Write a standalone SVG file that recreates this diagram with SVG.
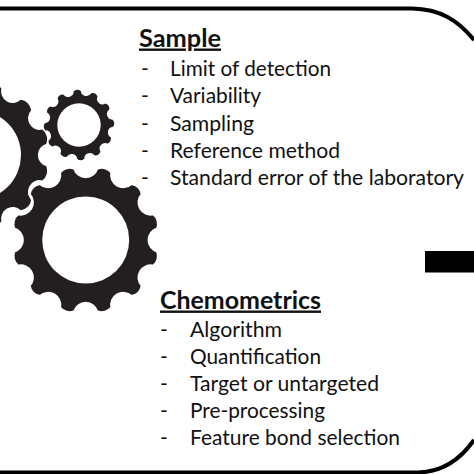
<svg xmlns="http://www.w3.org/2000/svg" width="474" height="474" viewBox="0 0 474 474">
<style>
text{font-family:Lato,Carlito,"Open Sans",sans-serif;fill:#111}
.h{font-size:24px;font-weight:700;text-decoration:underline}
.i{font-size:21px}
.g{fill:#231f20}
.o{fill:none;stroke:#000;stroke-width:4}
</style>
<defs>
<path id="gear" d="M70.13 11.11A12 12 0 0 1 66.28 25.44A11.6 11.6 0 0 0 55.18 44.68A12 12 0 0 1 44.68 55.18A11.6 11.6 0 0 0 25.44 66.28A12 12 0 0 1 11.11 70.13A11.6 11.6 0 0 0 -11.11 70.13A12 12 0 0 1 -25.44 66.28A11.6 11.6 0 0 0 -44.68 55.18A12 12 0 0 1 -55.18 44.68A11.6 11.6 0 0 0 -66.28 25.44A12 12 0 0 1 -70.13 11.11A11.6 11.6 0 0 0 -70.13 -11.11A12 12 0 0 1 -66.28 -25.44A11.6 11.6 0 0 0 -55.18 -44.68A12 12 0 0 1 -44.68 -55.18A11.6 11.6 0 0 0 -25.44 -66.28A12 12 0 0 1 -11.11 -70.13A11.6 11.6 0 0 0 11.11 -70.13A12 12 0 0 1 25.44 -66.28A11.6 11.6 0 0 0 44.68 -55.18A12 12 0 0 1 55.18 -44.68A11.6 11.6 0 0 0 66.28 -25.44A12 12 0 0 1 70.13 -11.11A11.6 11.6 0 0 0 70.13 11.11Z"/>
</defs>
<rect width="474" height="474" fill="#fff"/>
<g id="frame">
<path class="o" d="M0 8.5H412C440 9 458 20 474 40"/>
<path class="o" d="M0 472.5H418C442 472 460 460 474 440"/>
<rect x="425" y="251" width="49" height="21.5" fill="#000"/>
</g>
<g id="gear-left">
<use href="#gear" class="g" transform="translate(-24 155)"/>
<circle cx="-24" cy="155" r="45" fill="#fff"/>
</g>
<g id="gear-small">
<use href="#gear" class="g" transform="translate(79 125) rotate(-18) scale(.48)"/>
<circle cx="79" cy="125" r="21.7" fill="#fff"/>
</g>
<g id="gear-big">
<use href="#gear" class="g" stroke="#fff" stroke-width="2.5" transform="translate(85.7 240) scale(1.02)"/>
<circle cx="85.7" cy="240" r="43.5" fill="#fff"/>
</g>
<g id="sample">
<text class="h" x="139" y="46.5" textLength="82" lengthAdjust="spacingAndGlyphs">Sample</text>
<g class="i">
<text x="141" y="75.5">-</text><text x="170" y="75.5" textLength="161" lengthAdjust="spacingAndGlyphs">Limit of detection</text>
<text x="141" y="102.5">-</text><text x="170" y="102.5" textLength="91" lengthAdjust="spacingAndGlyphs">Variability</text>
<text x="141" y="130.5">-</text><text x="170" y="130.5" textLength="84" lengthAdjust="spacingAndGlyphs">Sampling</text>
<text x="141" y="157.5">-</text><text x="170" y="157.5" textLength="170" lengthAdjust="spacingAndGlyphs">Reference method</text>
<text x="141" y="184.5">-</text><text x="170" y="184.5" textLength="294" lengthAdjust="spacingAndGlyphs">Standard error of the laboratory</text>
</g>
</g>
<g id="chemometrics">
<text class="h" x="160" y="308.5" textLength="161" lengthAdjust="spacingAndGlyphs">Chemometrics</text>
<g class="i">
<text x="160" y="336.5">-</text><text x="190" y="336.5" textLength="92" lengthAdjust="spacingAndGlyphs">Algorithm</text>
<text x="160" y="363.5">-</text><text x="190" y="363.5" textLength="131" lengthAdjust="spacingAndGlyphs">Quantification</text>
<text x="160" y="390.5">-</text><text x="190" y="390.5" textLength="189" lengthAdjust="spacingAndGlyphs">Target or untargeted</text>
<text x="160" y="417.5">-</text><text x="190" y="417.5" textLength="135" lengthAdjust="spacingAndGlyphs">Pre-processing</text>
<text x="160" y="444.5">-</text><text x="190" y="444.5" textLength="210" lengthAdjust="spacingAndGlyphs">Feature bond selection</text>
</g>
</g>
</svg>
